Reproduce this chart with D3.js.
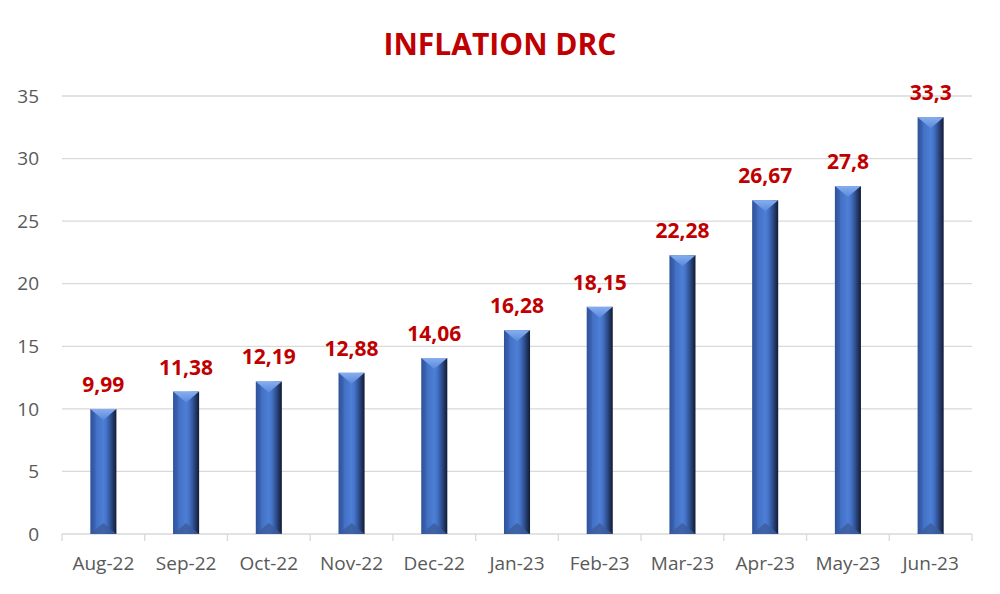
<!DOCTYPE html>
<html><head><meta charset="utf-8">
<script src="https://cdn.jsdelivr.net/npm/d3@7"></script>
<style>body{margin:0;background:#fff}svg{display:block}</style>
</head><body>
<svg id="c" width="1000" height="594"></svg>
<script>
const categories = ["Aug-22","Sep-22","Oct-22","Nov-22","Dec-22","Jan-23","Feb-23","Mar-23","Apr-23","May-23","Jun-23"];
const values = [9.99,11.38,12.19,12.88,14.06,16.28,18.15,22.28,26.67,27.8,33.3];
const labels = ["9,99","11,38","12,19","12,88","14,06","16,28","18,15","22,28","26,67","27,8","33,3"];
const yTicks = [0,5,10,15,20,25,30,35];
const title = "INFLATION DRC";

const svg = d3.select("#c");
const m = {l:62, r:972, t:96, b:534};
const x = d3.scaleBand().domain(categories).range([m.l, m.r]).paddingInner(0.685).paddingOuter(0.3425);
const y = d3.scaleLinear().domain([0,35]).range([m.b, m.t]);

const defs = svg.append("defs");
const g = defs.append("linearGradient").attr("id","barg").attr("x1","0").attr("x2","1").attr("y1","0").attr("y2","0");
[[0,"#2f5197"],[0.18,"#3b63b4"],[0.22,"#4270c4"],[0.5,"#4d7fd6"],[0.62,"#4472c7"],[0.78,"#2f4f8f"],[1,"#111a33"]]
  .forEach(([o,c])=>g.append("stop").attr("offset",o).attr("stop-color",c));
const gt = defs.append("linearGradient").attr("id","topg").attr("x1","0").attr("x2","0").attr("y1","0").attr("y2","1");
gt.append("stop").attr("offset",0).attr("stop-color","#86aef0");
gt.append("stop").attr("offset",1).attr("stop-color","#5a88da");

// gridlines
svg.append("g").selectAll("line").data(yTicks.filter(d=>d>0)).join("line")
  .attr("x1",m.l).attr("x2",m.r).attr("y1",d=>y(d)).attr("y2",d=>y(d))
  .attr("stroke","#d9d9d9").attr("stroke-width",1.3);

// y labels
svg.append("g").selectAll("text").data(yTicks).join("text")
  .attr("x",39).attr("y",d=>y(d)).attr("dy","0.35em").attr("text-anchor","end")
  .attr("font-family","Open Sans, sans-serif").attr("font-size",19).attr("fill","#595959")
  .text(d=>d);

// x axis
const xa = svg.append("g").attr("transform",`translate(0,${m.b})`)
  .call(d3.axisBottom(x).tickSize(0).tickPadding(23));
xa.select(".domain").remove();
xa.selectAll("text").attr("font-family","Open Sans, sans-serif").attr("font-size",19).attr("fill","#595959");
svg.append("line").attr("x1",m.l).attr("x2",m.r).attr("y1",m.b).attr("y2",m.b).attr("stroke","#d9d9d9").attr("stroke-width",1.3);
const step = x.step();
svg.append("g").selectAll("line").data(d3.range(categories.length+1)).join("line")
  .attr("x1",i=>m.l+i*step).attr("x2",i=>m.l+i*step).attr("y1",m.b).attr("y2",m.b+7)
  .attr("stroke","#d9d9d9").attr("stroke-width",1.3);

// bars
const bars = svg.append("g").selectAll("g").data(categories.map((c,i)=>({c,v:values[i],l:labels[i]}))).join("g");
bars.append("rect").attr("x",d=>x(d.c)).attr("y",d=>y(d.v)).attr("width",x.bandwidth())
  .attr("height",d=>y(0)-y(d.v)).attr("fill","url(#barg)");
const bw = x.bandwidth(), bd = 11;
bars.append("polygon").attr("points",d=>{
  const x0=x(d.c), x1=x0+bw, t=y(d.v);
  return `${x0},${t} ${x1},${t} ${x0+bw/2},${t+bd}`;
}).attr("fill","url(#topg)");
bars.append("polygon").attr("points",d=>{
  const x0=x(d.c), x1=x0+bw, b=y(0);
  return `${x0},${b} ${x1},${b} ${x0+bw/2},${b-bd}`;
}).attr("fill","#3c5c9c").attr("opacity",0.8);

// value labels
bars.append("text").attr("x",d=>x(d.c)+bw/2).attr("y",d=>y(d.v)-17)
  .attr("text-anchor","middle").attr("font-family","Open Sans, sans-serif").attr("font-weight","bold")
  .attr("font-size",21).attr("fill","#c00000").text(d=>d.l);

// title
svg.append("text").attr("x",500).attr("y",55).attr("text-anchor","middle")
  .attr("font-family","Open Sans, sans-serif").attr("font-weight","bold").attr("font-size",30)
  .attr("fill","#c00000").text(title);
</script>
</body></html>
